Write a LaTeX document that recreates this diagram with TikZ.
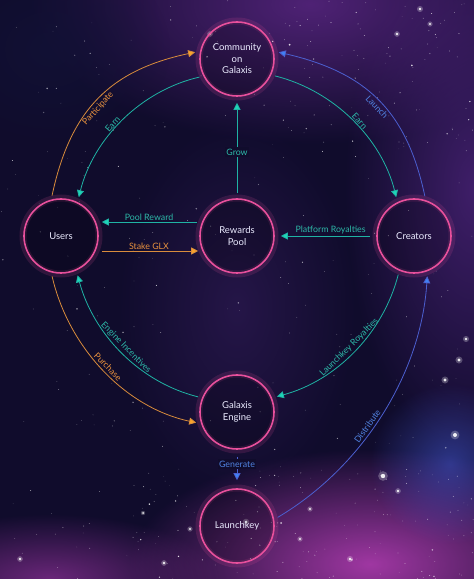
\documentclass[tikz,border=0pt]{standalone}
\usepackage{fontspec}
\setmainfont{Lato}
\usetikzlibrary{arrows.meta,fadings}
\tikzfading[name=softblob, inner color=transparent!0, outer color=transparent!100]
\definecolor{bgdark}{HTML}{100C2C}
\definecolor{pinkc}{HTML}{E8509C}
\definecolor{tealA}{HTML}{1ED6B8}
\definecolor{tealL}{HTML}{1FB3A4}
\definecolor{tealT}{HTML}{2DB8A8}
\definecolor{orA}{HTML}{F8A52C}
\definecolor{orL}{HTML}{D98C3C}
\definecolor{orT}{HTML}{E8913E}
\definecolor{blA}{HTML}{3F82F4}
\definecolor{blL}{HTML}{4C5FD0}
\definecolor{blT}{HTML}{5082E0}
\begin{document}
\begin{tikzpicture}[x=1pt,y=1pt,
  hub/.style={circle, minimum size=74pt, inner sep=0pt, draw=pinkc, line width=1.6pt,
    fill=black, fill opacity=0.18, text opacity=1, text=white!92!blue, align=center,
    font=\fontsize{9.5}{11.5}\selectfont},
  glow/.style={draw=pinkc, line width=7pt, draw opacity=0.15},
  lbl/.style={font=\fontsize{8.8}{10}\selectfont, inner sep=1.5pt},
  tealarr/.style={draw=tealL, line width=0.8pt, -{Triangle[length=7pt,width=7pt,fill=tealA]}, shorten <=4pt, shorten >=5pt},
  orarr/.style={draw=orL, line width=0.8pt, -{Triangle[length=7pt,width=7pt,fill=orA]}, shorten <=4pt, shorten >=5pt},
  blarr/.style={draw=blL, line width=0.8pt, -{Triangle[length=7pt,width=7pt,fill=blA]}, shorten <=4pt, shorten >=5pt},
  star/.style={fill=white}
]
\useasboundingbox (0,0) rectangle (474,579);
% background
\fill[bgdark] (0,0) rectangle (474,579);
\begin{scope}
\clip (0,0) rectangle (474,579);
\fill[color={rgb,255:red,90;green,38;blue,130}, opacity=0.85, path fading=softblob] (310,575) ellipse (280 and 140);
\fill[color={rgb,255:red,75;green,35;blue,120}, opacity=0.8, path fading=softblob] (474,390) ellipse (130 and 270);
\fill[color={rgb,255:red,175;green,60;blue,175}, opacity=0.9, path fading=softblob] (370,15) ellipse (240 and 115);
\fill[color={rgb,255:red,70;green,90;blue,215}, opacity=0.55, path fading=softblob] (450,115) ellipse (80 and 80);
\fill[color={rgb,255:red,145;green,50;blue,155}, opacity=0.7, path fading=softblob] (50,0) ellipse (170 and 65);
\fill[color={rgb,255:red,55;green,30;blue,95}, opacity=0.55, path fading=softblob] (237,270) ellipse (120 and 190);
\fill[color={rgb,255:red,18;green,18;blue,55}, opacity=0.8, path fading=softblob] (50,530) ellipse (120 and 100);
\pgfmathsetseed{4242}
\foreach \i in {1,...,240}{
  \pgfmathsetmacro{\sx}{474*rnd}
  \pgfmathsetmacro{\sy}{579*rnd}
  \pgfmathsetmacro{\sr}{0.3+0.9*rnd*rnd*rnd}
  \pgfmathsetmacro{\so}{0.25+0.6*rnd}
  \fill[star, opacity=\so] (\sx,\sy) circle (\sr pt);
}
\foreach \i in {1,...,90}{
  \pgfmathsetmacro{\sx}{280+194*rnd}
  \pgfmathsetmacro{\sy}{420+159*rnd}
  \pgfmathsetmacro{\sr}{0.3+1.0*rnd*rnd*rnd}
  \pgfmathsetmacro{\so}{0.3+0.6*rnd}
  \fill[star, opacity=\so] (\sx,\sy) circle (\sr pt);
}
\foreach \i in {1,...,110}{
  \pgfmathsetmacro{\sx}{120+354*rnd}
  \pgfmathsetmacro{\sy}{110*rnd}
  \pgfmathsetmacro{\sr}{0.3+1.0*rnd*rnd*rnd}
  \pgfmathsetmacro{\so}{0.3+0.6*rnd}
  \fill[star, opacity=\so] (\sx,\sy) circle (\sr pt);
}
\foreach \sx/\sy/\sr in {383/103/2.2, 455/144/2.0, 445/199/1.6, 459/219/1.6, 466/240/1.4, 398/88/1.3, 310/70/1.2, 300/40/1.2, 350/20/1.4, 246/57/1.5, 190/50/1.2, 20/20/1.3, 420/570/1.4, 430/555/1.2, 397/545/1.3, 210/545/1.3, 164/16/1.3, 143/66/1.0}{
  \fill[white, opacity=0.25] (\sx,\sy) circle (\sr*2.2pt);
  \fill[white, opacity=0.9] (\sx,\sy) circle (\sr pt);
}
\end{scope}
% glows
\foreach \cx/\cy in {237/520, 61/343, 237/343, 414/343, 237/167, 237/53}{
  \draw[glow] (\cx,\cy) circle (38pt);
}
% nodes
\node[hub] (comm) at (237,520) {Community\\on\\Galaxis};
\node[hub] (users) at (61,343) {Users};
\node[hub] (pool) at (237,343) {Rewards\\Pool};
\node[hub] (creators) at (414,343) {Creators};
\node[hub] (engine) at (237,167) {Galaxis\\Engine};
\node[hub] (lk) at (237,53) {Launchkey};
% curved connectors with labels
\draw[orarr] (users.105) to[out=78, in=192, looseness=1.12]
  node[lbl, text=orT, sloped, below, pos=0.46] (lpart) {Participate} (comm.168);
\draw[tealarr] (comm.207) to[out=193, in=76, looseness=0.93]
  node[lbl, text=tealT, sloped, above, pos=0.55] (learnl) {Earn} (users.64);
\draw[blarr] (creators.72) to[out=102, in=-13, looseness=1.12]
  node[lbl, text=blT, sloped, below, pos=0.47] (llaunch) {Launch} (comm.12);
\draw[tealarr] (comm.335) to[out=-14, in=104, looseness=0.93]
  node[lbl, text=tealT, sloped, above, pos=0.53] (learnr) {Earn} (creators.116);
\draw[tealarr] (engine.158) to[out=166, in=285, looseness=0.93]
  node[lbl, text=tealT, sloped, above, pos=0.5] (leng) {Engine Incentives} (users.294);
\draw[orarr] (users.255) to[out=283, in=168, looseness=0.93]
  node[lbl, text=orT, sloped, above, pos=0.5] (lpur) {Purchase} (engine.198);
\draw[tealarr] (creators.247) to[out=255.6, in=15, looseness=0.93]
  node[lbl, text=tealT, sloped, above, pos=0.5] (llkr) {Launchkey Royalties} (engine.22);
\draw[blarr] (lk.10) to[out=30.6, in=266.4, looseness=0.9]
  node[lbl, text=blT, sloped, above, pos=0.44] (ldist) {Distribute} (creators.291);
% straight connectors
\draw[tealarr, shorten <=5pt, shorten >=6pt] (pool.north) -- (comm.south);
\node[lbl, text=tealT, fill=bgdark] (lgrow) at (237,427) {Grow};
\draw[tealarr, shorten <=2pt, shorten >=3pt] ([yshift=14pt]pool.west) --
  node[lbl, text=tealT, above, pos=0.5] (lpool) {Pool Reward} ([yshift=14pt]users.east);
\draw[orarr, shorten <=3pt, shorten >=1pt] ([yshift=-15pt]users.east) --
  node[lbl, text=orT, above, pos=0.5] (lstake) {Stake GLX} ([yshift=-15pt]pool.west);
\draw[tealarr, shorten <=6pt, shorten >=6pt] (creators.west) --
  node[lbl, text=tealT, above, pos=0.45] (lplat) {Platform Royalties} (pool.east);
\draw[blarr, shorten <=7pt, shorten >=8pt] (engine.south) -- (lk.north);
\node[lbl, text=blT, fill=bgdark] (lgen) at (237,115) {Generate};
\end{tikzpicture}
\end{document}
